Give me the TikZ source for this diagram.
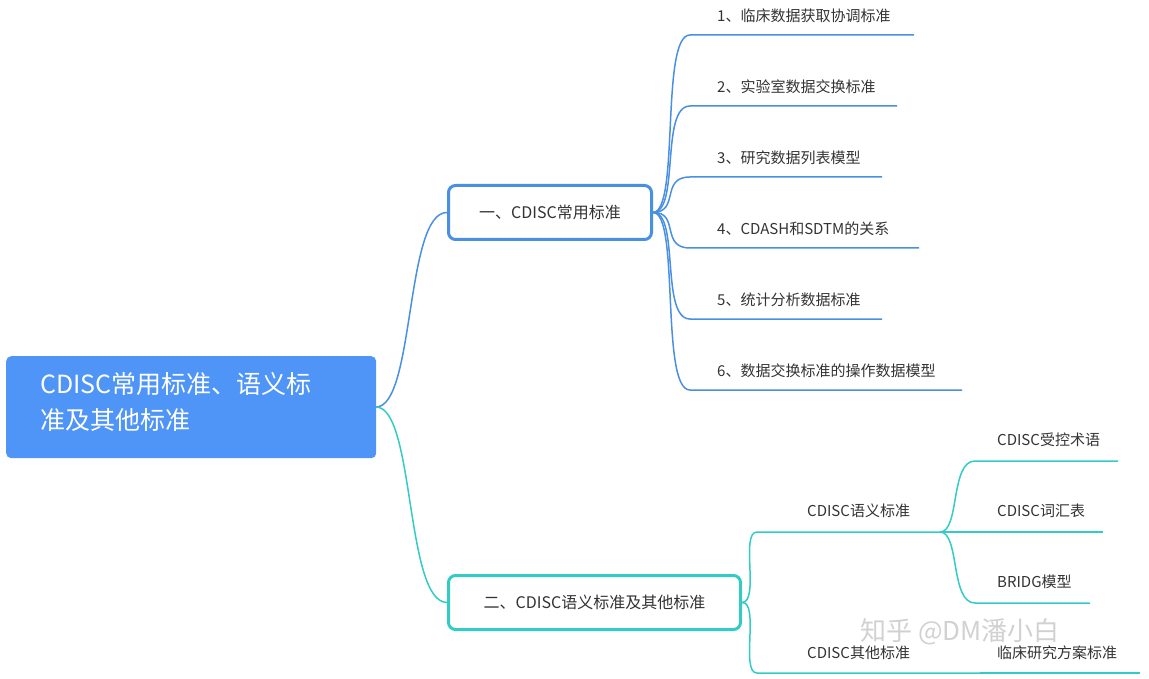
\documentclass[tikz,border=0pt]{standalone}
\usepackage{fontspec}
\setmainfont{Noto Sans CJK SC}
\begin{document}
\begin{tikzpicture}[x=1pt,y=-1pt,
  blu/.style={draw=bl,line width=1.5pt},
  tea/.style={draw=tl,line width=1.5pt},
  leaf/.style={anchor=west,text=tx,font=\fontsize{15}{18}\selectfont,inner sep=0pt},
  mid/.style={rounded corners=7pt,line width=3pt,fill=white,text=tx,font=\fontsize{16}{19}\selectfont,minimum height=54pt,anchor=north west}]
\definecolor{bl}{HTML}{4A90E2}
\definecolor{tl}{HTML}{33CCC4}
\definecolor{tx}{HTML}{333333}
\definecolor{rootc}{HTML}{4F94F7}
\useasboundingbox (0,0) rectangle (1149,679);
% root
\node[fill=rootc,rounded corners=5pt,minimum width=370pt,minimum height=102pt,anchor=north west] (root) at (6,356) {};
\node[anchor=north west,text=white,font=\fontsize{25}{36}\selectfont,align=left,inner sep=0pt] (rt) at (40,372) {CDISC常用标准、语义标\\准及其他标准};
\coordinate (r) at (376,407);
% mid nodes
\node[mid,draw=bl,minimum width=203pt] (n1) at (447,184) {一、CDISC常用标准};
\node[mid,draw=tl,minimum width=292pt] (n2) at (447,574) {二、CDISC语义标准及其他标准};
\draw[blu] (r) .. controls (415,407) and (405,212) .. (n1.west);
\draw[tea] (r) .. controls (415,407) and (405,602) .. (n2.west);
% blue leaves
\foreach \i/\t/\e in {1/1、临床数据获取协调标准/914,2/2、实验室数据交换标准/897,3/3、研究数据列表模型/882,4/4、CDASH和SDTM的关系/919,5/5、统计分析数据标准/882,6/6、数据交换标准的操作数据模型/962}{
  \pgfmathsetmacro{\yy}{35+71*(\i-1)}
  \node[leaf] (b\i) at (717,\yy-19) {\t};
  \coordinate (s\i) at (690,\yy);
  \coordinate (e\i) at (\e,\yy);
  \draw[blu] (n1.east) .. controls (680,212) and (660,\yy) .. (s\i) -- (e\i);
}
% teal
\node[leaf] (sem) at (807,511) {CDISC语义标准};
\coordinate (sa) at (757,532); \coordinate (sb) at (940,532);
\draw[tea] (n2.east) .. controls (760,602) and (740,532) .. (sa) -- (sb);
\node[leaf] (oth) at (807,653) {CDISC其他标准};
\coordinate (oa) at (757,673); \coordinate (ob) at (980,673);
\draw[tea] (n2.east) .. controls (760,602) and (740,673) .. (oa) -- (ob);
\node[leaf] (pr) at (997,653) {临床研究方案标准};
\coordinate (pe) at (1140,673);
\draw[tea] (ob) -- (pe);
\foreach \i/\t/\e in {1/CDISC受控术语/1118,2/CDISC词汇表/1103,3/BRIDG模型/1090}{
  \pgfmathsetmacro{\yy}{461+71*(\i-1)}
  \node[leaf] (c\i) at (997,\yy-21) {\t};
  \coordinate (cs\i) at (975,\yy);
  \coordinate (ce\i) at (\e,\yy);
  \draw[tea] (sb) .. controls (960,532) and (950,\yy) .. (cs\i) -- (ce\i);
}
\node[anchor=west,text=black!18,font=\fontsize{26}{30}\selectfont,inner sep=0pt] (wm) at (860,632) {知乎 @DM潘小白};
\end{tikzpicture}
\end{document}
